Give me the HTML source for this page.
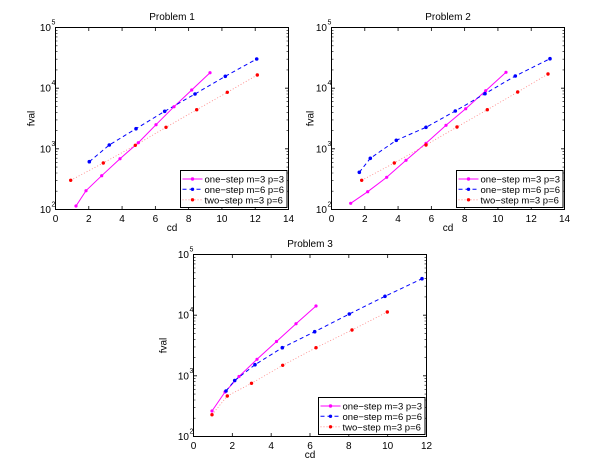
<!DOCTYPE html>
<html>
<head>
<meta charset="utf-8">
<style>
html,body{margin:0;padding:0;background:#fff;}
svg{display:block;}
text{font-family:"Liberation Sans",Arial,sans-serif;fill:#000;}
.t{font-size:10px;}
.s{font-size:7px;}
.lg{font-size:9.5px;}
</style>
</head>
<body>
<svg width="609" height="464" viewBox="0 0 609 464" xmlns="http://www.w3.org/2000/svg">
<rect width="609" height="464" fill="#fff"/>
<defs>
  <g id="yticks">
    <path d="M0 60.67h3.5M0 121.33h3.5M233 60.67h-3.5M233 121.33h-3.5" stroke="#000" stroke-width="0.8" fill="none"/>
    <path d="M0 163.7h2M0 153.1h2M0 145.5h2M0 139.6h2M0 134.8h2M0 130.7h2M0 127.2h2M0 124.1h2
             M0 103.1h2M0 92.4h2M0 84.8h2M0 78.9h2M0 74.1h2M0 70.1h2M0 66.5h2M0 63.4h2
             M0 42.4h2M0 31.7h2M0 24.2h2M0 18.3h2M0 13.5h2M0 9.4h2M0 5.9h2M0 2.8h2
             M233 163.7h-2M233 153.1h-2M233 145.5h-2M233 139.6h-2M233 134.8h-2M233 130.7h-2M233 127.2h-2M233 124.1h-2
             M233 103.1h-2M233 92.4h-2M233 84.8h-2M233 78.9h-2M233 74.1h-2M233 70.1h-2M233 66.5h-2M233 63.4h-2
             M233 42.4h-2M233 31.7h-2M233 24.2h-2M233 18.3h-2M233 13.5h-2M233 9.4h-2M233 5.9h-2M233 2.8h-2" stroke="#000" stroke-width="0.6" fill="none"/>
    <text class="t" x="-4.5" y="185.5" text-anchor="end">10</text><text class="s" x="-4" y="179">2</text>
    <text class="t" x="-4.5" y="124.8" text-anchor="end">10</text><text class="s" x="-4" y="118.3">3</text>
    <text class="t" x="-4.5" y="64.2" text-anchor="end">10</text><text class="s" x="-4" y="57.7">4</text>
    <text class="t" x="-4.5" y="3.5" text-anchor="end">10</text><text class="s" x="-4" y="-3">5</text>
  </g>
  <g id="legend">
    <rect x="125" y="143" width="106.5" height="37" fill="#fff" stroke="#000" stroke-width="1"/>
    <line x1="127" y1="151.5" x2="147" y2="151.5" stroke="#ff00ff" stroke-width="1"/>
    <circle cx="137" cy="151.5" r="1.7" fill="#ff00ff"/>
    <text class="lg" x="149" y="155">one−step m=3 p=3</text>
    <line x1="127" y1="161.8" x2="147" y2="161.8" stroke="#0000ff" stroke-width="1" stroke-dasharray="4,3"/>
    <circle cx="137" cy="161.8" r="1.7" fill="#0000ff"/>
    <text class="lg" x="149" y="165.3">one−step m=6 p=6</text>
    <line x1="127" y1="172.3" x2="147" y2="172.3" stroke="#ff8080" stroke-width="0.8" stroke-dasharray="1,2"/>
    <circle cx="137" cy="172.3" r="1.7" fill="#ff0000"/>
    <text class="lg" x="149" y="175.8">two−step m=3 p=6</text>
  </g>
</defs>

<!-- ============ Plot 1 ============ -->
<g transform="translate(55.5,27.5)">
  <use href="#yticks"/>
  <path d="M33.29 182v-3.5M66.57 182v-3.5M99.86 182v-3.5M133.14 182v-3.5M166.43 182v-3.5M199.71 182v-3.5
           M33.29 0v3.5M66.57 0v3.5M99.86 0v3.5M133.14 0v3.5M166.43 0v3.5M199.71 0v3.5" stroke="#000" stroke-width="0.8"/>
  <g class="t" text-anchor="middle">
    <text x="0" y="194.5">0</text><text x="33.29" y="194.5">2</text><text x="66.57" y="194.5">4</text>
    <text x="99.86" y="194.5">6</text><text x="133.14" y="194.5">8</text><text x="166.43" y="194.5">10</text>
    <text x="199.71" y="194.5">12</text><text x="233" y="194.5">14</text>
    <text x="116.5" y="203.5">cd</text>
    <text x="116.5" y="-7.5">Problem 1</text>
  </g>
  <text class="t" text-anchor="middle" transform="translate(-21,91) rotate(-90)">fval</text>
</g>
<polyline points="76,206 86,190.7 101.7,175.7 120,158.7 138.3,142.7 156,124.7 174,106.7 191.7,90 210,72.7" fill="none" stroke="#ff00ff" stroke-width="1"/>
<polyline points="89.3,161.7 109.3,145 136,128.7 164.7,111.3 195,94 225.3,76.3 256.7,59" fill="none" stroke="#0000ff" stroke-width="1" stroke-dasharray="4,3"/>
<polyline points="70.7,180.3 103.3,163 135.3,145.3 166,127.3 196.7,109.7 227.3,92.3 257.3,75" fill="none" stroke="#ff8080" stroke-width="0.8" stroke-dasharray="1,2"/>
<g fill="#ff00ff">
<circle cx="76" cy="206" r="1.6"/><circle cx="86" cy="190.7" r="1.6"/><circle cx="101.7" cy="175.7" r="1.6"/><circle cx="120" cy="158.7" r="1.6"/><circle cx="138.3" cy="142.7" r="1.6"/><circle cx="156" cy="124.7" r="1.6"/><circle cx="174" cy="106.7" r="1.6"/><circle cx="191.7" cy="90" r="1.6"/><circle cx="210" cy="72.7" r="1.6"/>
</g>
<g fill="#0000ff">
<circle cx="89.3" cy="161.7" r="1.8"/><circle cx="109.3" cy="145" r="1.8"/><circle cx="136" cy="128.7" r="1.8"/><circle cx="164.7" cy="111.3" r="1.8"/><circle cx="195" cy="94" r="1.8"/><circle cx="225.3" cy="76.3" r="1.8"/><circle cx="256.7" cy="59" r="1.8"/>
</g>
<g fill="#ff0000">
<circle cx="70.7" cy="180.3" r="1.7"/><circle cx="103.3" cy="163" r="1.7"/><circle cx="135.3" cy="145.3" r="1.7"/><circle cx="166" cy="127.3" r="1.7"/><circle cx="196.7" cy="109.7" r="1.7"/><circle cx="227.3" cy="92.3" r="1.7"/><circle cx="257.3" cy="75" r="1.7"/>
</g>
<g transform="translate(55.5,27.5)">
  <rect x="0" y="0" width="233" height="182" fill="none" stroke="#000" stroke-width="1"/>
  <use href="#legend"/>
</g>

<!-- ============ Plot 2 ============ -->
<g transform="translate(331.5,27.5)">
  <use href="#yticks"/>
  <path d="M33.29 182v-3.5M66.57 182v-3.5M99.86 182v-3.5M133.14 182v-3.5M166.43 182v-3.5M199.71 182v-3.5
           M33.29 0v3.5M66.57 0v3.5M99.86 0v3.5M133.14 0v3.5M166.43 0v3.5M199.71 0v3.5" stroke="#000" stroke-width="0.8"/>
  <g class="t" text-anchor="middle">
    <text x="0" y="194.5">0</text><text x="33.29" y="194.5">2</text><text x="66.57" y="194.5">4</text>
    <text x="99.86" y="194.5">6</text><text x="133.14" y="194.5">8</text><text x="166.43" y="194.5">10</text>
    <text x="199.71" y="194.5">12</text><text x="233" y="194.5">14</text>
    <text x="116.5" y="203.5">cd</text>
    <text x="116.5" y="-7.5">Problem 2</text>
  </g>
  <text class="t" text-anchor="middle" transform="translate(-18,91) rotate(-90)">fval</text>
</g>
<polyline points="350.7,203.3 367.7,191.7 386.7,177.3 406,160.3 426,143.3 446,125.3 465.7,108.7 485.7,90.7 506,72.3" fill="none" stroke="#ff00ff" stroke-width="1"/>
<polyline points="359.3,172.3 370.3,158.3 396.3,140.3 426,127.3 455.3,111 485,93.7 515.3,76 550,58.7" fill="none" stroke="#0000ff" stroke-width="1" stroke-dasharray="4,3"/>
<polyline points="361.7,180.3 394.3,163 426,145 457,127 487.3,109.7 517.7,92 548,74" fill="none" stroke="#ff8080" stroke-width="0.8" stroke-dasharray="1,2"/>
<g fill="#ff00ff">
<circle cx="350.7" cy="203.3" r="1.6"/><circle cx="367.7" cy="191.7" r="1.6"/><circle cx="386.7" cy="177.3" r="1.6"/><circle cx="406" cy="160.3" r="1.6"/><circle cx="426" cy="143.3" r="1.6"/><circle cx="446" cy="125.3" r="1.6"/><circle cx="465.7" cy="108.7" r="1.6"/><circle cx="485.7" cy="90.7" r="1.6"/><circle cx="506" cy="72.3" r="1.6"/>
</g>
<g fill="#0000ff">
<circle cx="359.3" cy="172.3" r="1.8"/><circle cx="370.3" cy="158.3" r="1.8"/><circle cx="396.3" cy="140.3" r="1.8"/><circle cx="426" cy="127.3" r="1.8"/><circle cx="455.3" cy="111" r="1.8"/><circle cx="485" cy="93.7" r="1.8"/><circle cx="515.3" cy="76" r="1.8"/><circle cx="550" cy="58.7" r="1.8"/>
</g>
<g fill="#ff0000">
<circle cx="361.7" cy="180.3" r="1.7"/><circle cx="394.3" cy="163" r="1.7"/><circle cx="426" cy="145" r="1.7"/><circle cx="457" cy="127" r="1.7"/><circle cx="487.3" cy="109.7" r="1.7"/><circle cx="517.7" cy="92" r="1.7"/><circle cx="548" cy="74" r="1.7"/>
</g>
<g transform="translate(331.5,27.5)">
  <rect x="0" y="0" width="233" height="182" fill="none" stroke="#000" stroke-width="1"/>
  <use href="#legend"/>
</g>

<!-- ============ Plot 3 ============ -->
<g transform="translate(193.5,254.5)">
  <use href="#yticks"/>
  <path d="M38.83 182v-3.5M77.67 182v-3.5M116.5 182v-3.5M155.33 182v-3.5M194.17 182v-3.5
           M38.83 0v3.5M77.67 0v3.5M116.5 0v3.5M155.33 0v3.5M194.17 0v3.5" stroke="#000" stroke-width="0.8"/>
  <g class="t" text-anchor="middle">
    <text x="0" y="194.5">0</text><text x="38.83" y="194.5">2</text><text x="77.67" y="194.5">4</text>
    <text x="116.5" y="194.5">6</text><text x="155.33" y="194.5">8</text><text x="194.17" y="194.5">10</text>
    <text x="233" y="194.5">12</text>
    <text x="116.5" y="203.5">cd</text>
    <text x="116.5" y="-7.5">Problem 3</text>
  </g>
  <text class="t" text-anchor="middle" transform="translate(-27,91) rotate(-90)">fval</text>
</g>
<polyline points="212,411 225,392 239,376.5 257,359.3 276.5,341.5 296,323.7 316,306" fill="none" stroke="#ff00ff" stroke-width="1"/>
<polyline points="226,391 234.7,380.5 255,364.7 282.3,347.7 314.7,331.7 349.3,314 385,296.3 422,278.7" fill="none" stroke="#0000ff" stroke-width="1" stroke-dasharray="4,3"/>
<polyline points="212,414.7 227.3,396 251.5,383.3 282.7,365.3 316,347.7 352,330 387.3,312" fill="none" stroke="#ff8080" stroke-width="0.8" stroke-dasharray="1,2"/>
<g fill="#ff00ff">
<circle cx="212" cy="411" r="1.6"/><circle cx="225" cy="392" r="1.6"/><circle cx="239" cy="376.5" r="1.6"/><circle cx="257" cy="359.3" r="1.6"/><circle cx="276.5" cy="341.5" r="1.6"/><circle cx="296" cy="323.7" r="1.6"/><circle cx="316" cy="306" r="1.6"/>
</g>
<g fill="#0000ff">
<circle cx="226" cy="391" r="1.8"/><circle cx="234.7" cy="380.5" r="1.8"/><circle cx="255" cy="364.7" r="1.8"/><circle cx="282.3" cy="347.7" r="1.8"/><circle cx="314.7" cy="331.7" r="1.8"/><circle cx="349.3" cy="314" r="1.8"/><circle cx="385" cy="296.3" r="1.8"/><circle cx="422" cy="278.7" r="1.8"/>
</g>
<g fill="#ff0000">
<circle cx="212" cy="414.7" r="1.7"/><circle cx="227.3" cy="396" r="1.7"/><circle cx="251.5" cy="383.3" r="1.7"/><circle cx="282.7" cy="365.3" r="1.7"/><circle cx="316" cy="347.7" r="1.7"/><circle cx="352" cy="330" r="1.7"/><circle cx="387.3" cy="312" r="1.7"/>
</g>
<g transform="translate(193.5,254.5)">
  <rect x="0" y="0" width="233" height="182" fill="none" stroke="#000" stroke-width="1"/>
  <use href="#legend"/>
</g>
</svg>
</body>
</html>
